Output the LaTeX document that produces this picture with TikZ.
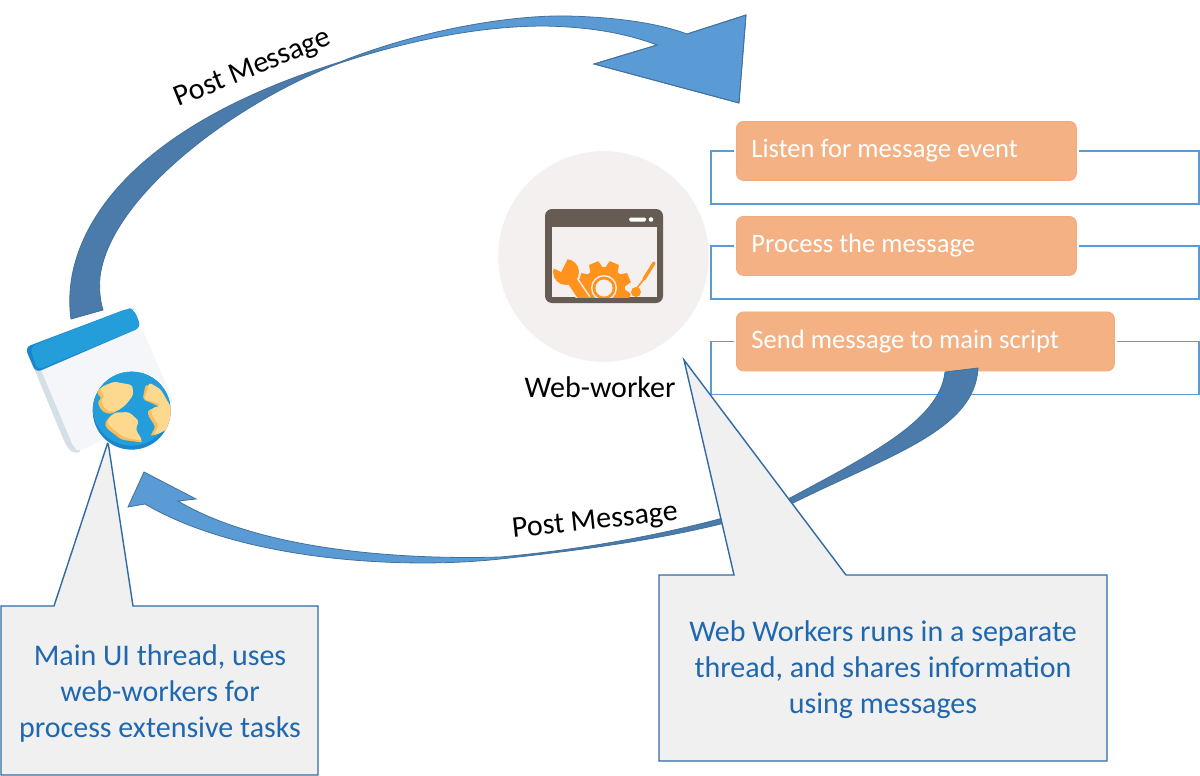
\documentclass[tikz,border=0pt]{standalone}
\usepackage{fontspec}
\setmainfont{Carlito}
\definecolor{arrdark}{HTML}{4A7BAA}
\definecolor{arrlight}{HTML}{5B9BD5}
\definecolor{arredge}{HTML}{41719C}
\definecolor{boxfill}{HTML}{F4B183}
\definecolor{boxedge}{HTML}{F2AC7C}
\definecolor{brk}{HTML}{5B9BD5}
\definecolor{calledge}{HTML}{2F6AA3}
\definecolor{callfill}{HTML}{F0F0F0}
\definecolor{calltext}{HTML}{1F68B0}
\definecolor{disc}{HTML}{F3F0EF}
\definecolor{win}{HTML}{665C54}
\definecolor{gearc}{HTML}{FF931E}
\definecolor{sky}{HTML}{239EDB}
\definecolor{skyd}{HTML}{1A86CC}
\definecolor{land}{HTML}{FCD98F}
\definecolor{landd}{HTML}{F9BE5A}
\definecolor{shadowc}{HTML}{D5DFE8}
\definecolor{pagec}{HTML}{F4F6F9}
\pgfdeclarehorizontalshading{upshade}{100bp}{color(0bp)=(arrdark); color(46bp)=(arrdark); color(50bp)=(arrlight); color(100bp)=(arrlight)}
\pgfdeclarehorizontalshading{lowshade}{100bp}{color(0bp)=(arrlight); color(46.3bp)=(arrlight); color(48.6bp)=(arrdark); color(100bp)=(arrdark)}
\tikzset{
 stepbox/.style={draw=boxedge,fill=boxfill,rounded corners=7pt,line width=0.8pt,text=white,
   font=\fontsize{26.6}{30}\selectfont,align=flush left,inner xsep=15pt,inner ysep=0pt,minimum height=59pt},
 bracket/.style={draw=brk,line width=1.3pt,shorten <=2pt,shorten >=2pt},
 callout/.style={draw=calledge,fill=callfill,line width=1.4pt,line join=miter},
 calltxt/.style={text=calltext,font=\fontsize{30}{36}\selectfont,align=center,inner sep=0pt},
 msg/.style={text=black,font=\fontsize{30}{32}\selectfont,inner sep=0pt},
 blockarrow/.style={draw=arredge,line width=0.8pt,line join=miter}
}
\begin{document}
\begin{tikzpicture}[x=1pt,y=-1pt]
\useasboundingbox (0,0) rectangle (1200,776);
\fill[white] (0,0) rectangle (1200,776);
% disc
\node[circle,fill=disc,draw=white!90!disc,minimum size=211pt,inner sep=0pt] (disc) at (603.5,256.5) {};
% worker window icon
\fill[win,rounded corners=7pt] (545,209) rectangle (663,303);
\fill[disc] (552,227) rectangle (657,297);
\fill[white,rounded corners=1.5pt] (629,217.5) rectangle (646,221.5);
\fill[white] (651,219.5) circle (2.3);
\begin{scope}
\clip (552,227) rectangle (657,297);
\fill[gearc] (604,288) circle (21);
\foreach \a in {0,45,...,315}{
  \fill[gearc,shift={(604,288)},rotate=\a+22.5] (-5,-27) -- (5,-27) -- (7,-18) -- (-7,-18) -- cycle;
}
\fill[disc] (604,288) circle (13);
\fill[gearc] (604,288) circle (11.5);
\fill[disc] (604,288) circle (8.5);
% wrench
\draw[disc,line width=13pt] (566,272) -- (585,300);
\fill[disc] (566,272) circle (15);
\fill[gearc] (566,272) circle (13);
\draw[gearc,line width=10pt] (566,272) -- (585,300);
\fill[disc] (561,272) -- (547,265) -- (556,250) -- (568,258) -- cycle;
% screwdriver
\draw[gearc,line width=3.4pt,line cap=round] (654,263) -- (644,279);
\draw[gearc,line width=1.6pt] (644,279) -- (637,288);
\fill[gearc] (636,292) circle (5);
\end{scope}
% brackets and step boxes
\node[stepbox,text width=310pt,anchor=north west] (b1) at (736,121) {\raisebox{-1.5pt}{Listen for message event}};
\node[stepbox,text width=310pt,anchor=north west] (b2) at (736,216) {\raisebox{-1.5pt}{Process the message}};
\node[stepbox,text width=348pt,anchor=north west] (b3) at (736,311.5) {\raisebox{-1.5pt}{Send message to main script}};
\draw[bracket] (b1.west) -- ++(-25,0) -- ++(0,53) -- ++(488,0) -- ++(0,-53) -- (b1.east);
\draw[bracket] (b2.west) -- ++(-25,0) -- ++(0,53) -- ++(488,0) -- ++(0,-53) -- (b2.east);
\draw[bracket] (b3.west) -- ++(-25,0) -- ++(0,53) -- ++(488,0) -- ++(0,-53) -- (b3.east);
% upper arrow
\path[blockarrow,shading=upshade]
  (71,319) .. controls (60,240) and (120,130) .. (340,62)
  .. controls (420,30) and (510,15) .. (567,16)
  .. controls (610,17) and (655,22) .. (687,34)
  -- (746,15) -- (739,103) -- (594,64) -- (657,45)
  .. controls (625,33) and (590,27) .. (545,26)
  .. controls (480,26) and (410,40) .. (340,63)
  .. controls (240,100) and (110,195) .. (100,277)
  .. controls (99,290) and (100,300) .. (103,310) -- cycle;
\draw[blockarrow] (687,34) -- (746,15) -- (739,103) -- (594,64) -- (657,45);
% lower arrow
\path[blockarrow,shading=lowshade]
  (978,368) .. controls (975,430) and (890,455) .. (793,503)
  .. controls (700,535) and (600,548) .. (500,559)
  .. controls (400,570) and (240,560) .. (145,504)
  -- (128,507) -- (144,472) -- (196,499) -- (178,501)
  .. controls (260,550) and (400,560) .. (500,557)
  .. controls (600,548) and (700,528) .. (790,498)
  .. controls (870,455) and (940,420) .. (945,372) -- cycle;
% labels
\node[msg,rotate=22] (pm1) at (253,69) {Post Message};
\node[msg,rotate=6] (pm2) at (595,522) {Post Message};
\node[msg] (ww) at (600,387) {Web-worker};
% callouts
\path[callout] (1,606) -- (54,606) -- (108,442) -- (133,606) -- (318,606) -- (318,775) -- (1,775) -- cycle;
\path[callout] (659,575) -- (734,575) -- (684,360) -- (846,575) -- (1107,575) -- (1107,761) -- (659,761) -- cycle;
\node[calltxt] (c1) at (160,693) {Main UI thread, uses\\web-workers for\\process extensive tasks};
\node[calltxt] (c2) at (883,670) {Web Workers runs in a separate\\thread, and shares information\\using messages};
% browser icon
\begin{scope}[x=0.33333pt,y=-0.33333pt,yshift=-280pt]
\fill[white] (72,203) -- (390,80) -- (530,365) -- (240,525) -- (205,515) -- cycle;
\fill[shadowc,rounded corners=4pt] (100,260) -- (125,270) -- (245,518) -- (215,518) -- (195,490) -- cycle;
\fill[pagec,rounded corners=6pt] (120,262) -- (423,140) -- (522,365) -- (240,515) -- (222,505) -- cycle;
\fill[skyd,rounded corners=6pt] (75,202) -- (385,85) -- (402,88) -- (423,142) -- (107,278) -- cycle;
\fill[sky,rounded corners=6pt] (90,200) -- (385,85) -- (402,88) -- (423,142) -- (112,270) -- cycle;
\fill[white] (395,392) circle (120);
\fill[skyd] (395,392) circle (117);
\begin{scope}
\clip (395,392) circle (117);
\fill[sky] (395,380) circle (117);
\fill[landd,rounded corners=3pt] (292,329) -- (332,309) -- (387,319) -- (390,349) -- (367,379) -- (342,399) -- (322,402) -- (302,389) -- (292,364) -- (307,354) -- (292,344) -- cycle;
\fill[land,rounded corners=3pt] (302,322) -- (342,305) -- (397,315) -- (400,345) -- (377,375) -- (352,393) -- (332,396) -- (312,383) -- (302,358) -- (317,348) -- (302,338) -- cycle;
\fill[landd,rounded corners=3pt] (437,312) -- (472,332) -- (502,387) -- (505,422) -- (492,452) -- (457,469) -- (452,462) -- (467,442) -- (442,402) -- (447,387) -- (485,385) -- (462,372) -- (428,358) -- (432,337) -- cycle;
\fill[land,rounded corners=3pt] (447,307) -- (482,328) -- (515,385) -- (515,420) -- (502,448) -- (467,465) -- (462,458) -- (477,438) -- (452,398) -- (457,383) -- (482,378) -- (472,368) -- (432,358) -- (442,333) -- cycle;
\fill[landd,rounded corners=3pt] (334,404) -- (379,402) -- (409,429) -- (399,454) -- (430,488) -- (364,479) -- (319,444) -- (314,429) -- cycle;
\fill[land,rounded corners=3pt] (342,398) -- (387,396) -- (417,423) -- (407,448) -- (428,483) -- (372,472) -- (327,437) -- (322,422) -- cycle;
\end{scope}
\end{scope}
\end{tikzpicture}
\end{document}
